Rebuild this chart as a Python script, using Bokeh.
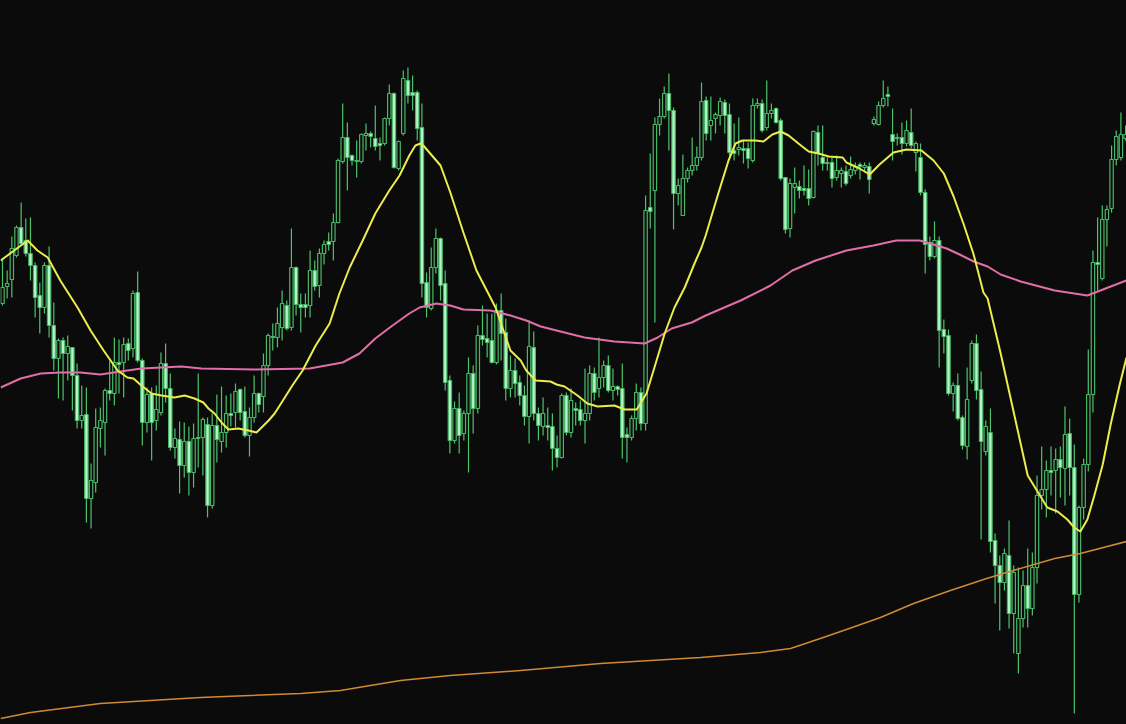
from bokeh.plotting import figure
from bokeh.models import ColumnDataSource, Range1d, GlobalInlineStyleSheet
from bokeh.embed import file_html
from bokeh.resources import INLINE

# ---- OHLC data (price units), one entry per bar ----
opens = [421, 438, 445, 469, 497, 484, 471, 459, 429, 417, 459, 399, 366, 384, 371, 377, 349, 304, 310, 226,
         242, 296, 302, 334, 331, 362, 362, 381, 376, 432, 364, 302, 331, 304, 312, 361, 336, 277, 285, 259,
         283, 252, 287, 287, 300, 219, 299, 283, 292, 311, 312, 335, 313, 289, 307, 331, 328, 359, 388, 387,
         397, 419, 397, 457, 420, 420, 419, 454, 439, 471, 483, 483, 502, 563, 587, 569, 564, 563, 589, 591,
         586, 581, 581, 606, 631, 556, 591, 644, 632, 632, 597, 442, 416, 457, 486, 441, 344, 284, 316, 291,
         311, 351, 316, 389, 386, 384, 362, 414, 392, 336, 354, 342, 329, 308, 377, 311, 298, 299, 298, 276,
         267, 329, 292, 316, 315, 304, 311, 351, 336, 347, 359, 334, 338, 336, 290, 287, 306, 332, 301, 517,
         534, 600, 608, 631, 614, 531, 509, 546, 554, 559, 567, 624, 599, 606, 609, 622, 610, 574, 575, 576,
         576, 564, 619, 621, 597, 611, 616, 604, 547, 496, 537, 538, 536, 536, 527, 592, 567, 562, 562, 547,
         551, 553, 549, 554, 560, 557, 558, 601, 600, 619, 630, 590, 586, 587, 581, 592, 572, 567, 532, 482,
         468, 484, 395, 389, 331, 339, 307, 278, 344, 381, 335, 273, 292, 184, 159, 142, 169, 111, 71, 106,
         139, 116, 157, 229, 235, 254, 254, 265, 256, 291, 257, 130, 217, 260, 330, 462, 446, 505, 516, 565,
         567, 586]
highs = [466, 454, 488, 499, 522, 506, 507, 462, 442, 462, 478, 422, 386, 387, 389, 377, 361, 339, 337, 261,
         316, 317, 336, 364, 387, 385, 387, 386, 434, 453, 366, 337, 337, 339, 372, 381, 351, 296, 303, 302,
         298, 301, 351, 307, 307, 311, 330, 338, 329, 331, 341, 336, 338, 317, 349, 332, 371, 391, 401, 417,
         434, 424, 496, 458, 431, 431, 474, 464, 476, 484, 492, 511, 566, 621, 602, 570, 584, 591, 601, 593,
         619, 587, 607, 640, 632, 584, 654, 657, 649, 634, 621, 452, 477, 496, 487, 454, 349, 323, 332, 314,
         367, 359, 399, 419, 411, 411, 421, 431, 406, 369, 366, 349, 339, 404, 393, 317, 327, 317, 311, 289,
         331, 332, 336, 322, 324, 356, 359, 357, 387, 364, 369, 356, 339, 361, 297, 309, 341, 337, 529, 571,
         607, 626, 638, 651, 617, 546, 570, 557, 587, 578, 642, 628, 628, 612, 627, 625, 621, 601, 607, 584,
         582, 626, 626, 625, 644, 621, 617, 606, 547, 546, 557, 544, 559, 555, 594, 599, 599, 567, 567, 569,
         557, 559, 568, 562, 562, 562, 562, 608, 623, 644, 638, 616, 591, 602, 604, 616, 583, 581, 535, 488,
         503, 488, 405, 395, 342, 351, 309, 357, 384, 390, 353, 304, 316, 191, 169, 176, 204, 159, 157, 154,
         176, 172, 249, 278, 264, 278, 276, 278, 318, 306, 280, 219, 266, 375, 474, 507, 519, 519, 579, 594,
         612, 599]
lows = [419, 426, 427, 467, 479, 468, 444, 407, 391, 411, 387, 354, 326, 324, 344, 314, 296, 296, 202, 196,
        232, 277, 269, 324, 319, 331, 327, 364, 367, 362, 279, 292, 264, 294, 309, 322, 274, 266, 231, 247,
        229, 237, 257, 249, 207, 216, 262, 272, 277, 298, 297, 304, 287, 268, 302, 312, 312, 349, 374, 377,
        384, 394, 394, 409, 392, 407, 407, 434, 427, 460, 474, 464, 501, 561, 534, 559, 547, 561, 574, 577,
        574, 564, 579, 599, 556, 554, 589, 621, 614, 584, 427, 407, 414, 451, 424, 334, 271, 281, 271, 284,
        252, 291, 311, 379, 367, 361, 360, 364, 324, 327, 327, 319, 299, 281, 304, 284, 289, 284, 254, 257,
        266, 289, 287, 299, 299, 281, 304, 324, 327, 337, 332, 324, 329, 266, 262, 284, 294, 294, 294, 496,
        402, 589, 606, 574, 495, 519, 509, 542, 549, 554, 564, 584, 584, 591, 599, 591, 569, 564, 569, 561,
        556, 562, 616, 592, 594, 606, 601, 544, 491, 487, 511, 526, 529, 519, 526, 559, 554, 554, 537, 544,
        537, 539, 546, 550, 545, 552, 531, 599, 599, 617, 618, 564, 579, 570, 578, 576, 553, 529, 451, 464,
        466, 357, 371, 329, 313, 304, 275, 265, 341, 325, 185, 269, 172, 121, 94, 134, 96, 71, 51, 97,
        97, 109, 141, 215, 207, 229, 211, 227, 219, 229, 11, 122, 205, 253, 312, 434, 444, 478, 512, 559,
        564, 584]
closes = [437, 441, 476, 497, 481, 471, 459, 427, 417, 459, 399, 366, 384, 371, 378, 349, 304, 309, 226, 244,
          297, 304, 334, 331, 362, 360, 380, 374, 431, 364, 302, 330, 302, 315, 361, 336, 277, 286, 259, 283,
          252, 286, 286, 305, 219, 299, 285, 292, 311, 309, 333, 312, 289, 307, 331, 320, 359, 389, 387, 401,
          421, 396, 457, 420, 417, 417, 454, 438, 471, 480, 480, 502, 564, 587, 567, 564, 563, 590, 591, 588,
          578, 579, 606, 631, 557, 583, 646, 629, 629, 596, 441, 417, 457, 486, 439, 342, 284, 316, 289, 311,
          351, 316, 389, 385, 382, 362, 414, 391, 336, 354, 341, 329, 308, 378, 311, 299, 311, 297, 276, 267,
          329, 292, 324, 314, 304, 311, 351, 332, 347, 359, 334, 338, 335, 287, 287, 306, 332, 301, 514, 513,
          600, 608, 631, 614, 531, 539, 546, 554, 559, 567, 623, 591, 604, 610, 623, 609, 572, 571, 577, 574,
          566, 619, 621, 594, 611, 614, 602, 546, 495, 541, 541, 534, 534, 526, 593, 571, 561, 561, 546, 554,
          554, 541, 555, 558, 558, 559, 545, 605, 619, 626, 628, 583, 587, 581, 594, 579, 581, 532, 480, 468,
          484, 394, 388, 331, 339, 306, 279, 325, 381, 334, 283, 298, 183, 159, 142, 171, 111, 152, 106, 139,
          116, 157, 229, 235, 254, 252, 265, 257, 290, 257, 130, 217, 260, 330, 462, 460, 505, 515, 565, 588,
          590, 590]

# ---- moving averages, read at sample bars (bar index, price) ----
ma_fast_x = [-0.4, 5.4, 7.5, 9.7, 12.4, 16.1, 18.9, 21.7, 24.7, 26.8, 28.1, 29.8, 32.0, 34.1, 36.9, 39.1, 41.2,
             43.1, 44.2, 45.5, 47.0, 48.5, 50.6, 52.8, 54.5, 55.6, 57.1, 58.4, 59.9, 62.2, 64.4, 67.2, 70.2,
             72.3, 74.5, 77.3, 80.0, 83.0, 85.2, 87.3, 88.6, 89.7, 90.3, 94.0, 96.1, 98.9, 101.7, 104.7, 105.8,
             107.5, 109.0, 111.2, 112.4, 114.4, 117.6, 118.9, 120.6, 123.4, 125.5, 127.7, 131.3, 133.5, 136.1,
             138.2, 139.9, 142.1, 144.2, 146.4, 148.5, 150.0, 150.9, 153.6, 155.8, 157.3, 158.8, 161.6, 163.3,
             165.2, 167.0, 168.7, 170.8, 173.0, 175.1, 177.3, 180.3, 181.1, 183.9, 186.1, 188.2, 191.2, 194.0,
             197.2, 199.8, 202.0, 204.1, 206.2, 208.4, 210.5, 211.4, 214.2, 217.2, 220.0, 222.1, 224.2, 226.4,
             228.5, 230.0, 231.3, 232.8, 234.3, 236.1, 237.8, 239.7, 241.2]
ma_fast_y = [464, 484, 474, 467, 444, 417, 394, 374, 354, 347, 346, 339, 331, 329, 327, 329, 326,
             322, 316, 311, 302, 295, 296, 294, 292, 297, 304, 311, 322, 339, 354, 379, 401,
             431, 457, 484, 511, 534, 549, 569, 579, 581, 579, 559, 532, 492, 454, 427, 417,
             394, 374, 364, 354, 344, 343, 340, 338, 329, 321, 318, 319, 315, 315,
             331, 357, 391, 417, 437, 461, 477, 489, 531, 564, 581, 584, 584, 583,
             590, 593, 589, 581, 573, 571, 568, 567, 562, 556, 550, 560, 572, 575,
             574, 564, 551, 528, 501, 470, 432, 426, 371, 308, 249, 233, 217, 213,
             205, 197, 193, 205, 229, 260, 300, 339, 367]
ma_mid_x = [-0.4, 3.9, 8.2, 12.4, 16.7, 21.0, 26.8, 29.8, 38.4, 42.7, 54.1, 65.9, 73.0, 76.6, 80.0, 83.7,
            87.3, 89.5, 93.1, 96.1, 98.9, 104.7, 109.0, 112.4, 115.5, 120.6, 124.9, 131.3, 137.8, 140.6,
            143.6, 147.9, 150.9, 158.4, 164.8, 169.5, 174.5, 181.1, 186.9, 191.8, 196.8, 199.8, 202.6,
            205.4, 208.4, 211.4, 214.2, 218.5, 225.8, 232.8, 235.6, 241.2]
ma_mid_y = [337, 346, 351, 352, 352, 350, 354, 356, 358, 356, 355, 356, 362, 371, 386, 399,
            411, 417, 421, 419, 415, 414, 409, 404, 398, 392, 387, 383, 381, 387,
            396, 402, 409, 424, 439, 454, 464, 474, 479, 484, 484, 480, 476,
            470, 463, 458, 450, 443, 434, 429, 434, 444]
ma_slow_x = [-0.4, 6.0, 21.0, 42.5, 64.0, 72.5, 85.4, 96.1, 111.2, 128.3, 139.1, 149.8, 162.7, 169.1,
             175.5, 181.1, 188.4, 195.5, 203.4, 211.2, 216.9, 225.8, 231.3, 241.2]
ma_slow_y = [6, 12, 21, 27, 31, 34, 44, 49, 54, 61, 64, 67, 72, 76,
             86, 95, 107, 121, 134, 146, 154, 166, 171, 183]

BG = "#0b0b0b"
WICK = "#4cc46c"
EDGE = "#48b866"
FILL = "#b4f5c8"

n = len(opens)
bars = list(range(n))
up = [c >= o for o, c in zip(opens, closes)]

src_up = ColumnDataSource(dict(
    x=[b for b, u in zip(bars, up) if u],
    top=[c for c, u in zip(closes, up) if u],
    bottom=[o for o, u in zip(opens, up) if u],
))
src_dn = ColumnDataSource(dict(
    x=[b for b, u in zip(bars, up) if not u],
    top=[o for o, u in zip(opens, up) if not u],
    bottom=[c for c, u in zip(closes, up) if not u],
))

p = figure(width=1126, height=724, output_backend="svg", toolbar_location=None,
           x_range=Range1d(-0.43, 241.2), y_range=Range1d(0, 724),
           min_border=0, background_fill_color=BG, border_fill_color=BG,
           outline_line_color=None)
p.axis.visible = False
p.grid.visible = False
p.stylesheets = [GlobalInlineStyleSheet(css="html, body { margin: 0; padding: 0; background: #0b0b0b; overflow: hidden; }")]

p.segment(x0=bars, y0=highs, x1=bars, y1=lows, line_color=WICK, line_width=1.2)
p.vbar(x="x", top="top", bottom="bottom", width=0.72, source=src_up,
       fill_color=BG, line_color=EDGE, line_width=1.2)
p.vbar(x="x", top="top", bottom="bottom", width=0.72, source=src_dn,
       fill_color=FILL, line_color=EDGE, line_width=1.2)

p.line(ma_slow_x, ma_slow_y, line_color="#d08a34", line_width=1.5, line_join="round")
p.line(ma_mid_x, ma_mid_y, line_color="#e06fa8", line_width=2, line_join="round")
p.line(ma_fast_x, ma_fast_y, line_color="#ecec4c", line_width=2, line_join="round")

open("out.html", "w").write(file_html(p, INLINE))
